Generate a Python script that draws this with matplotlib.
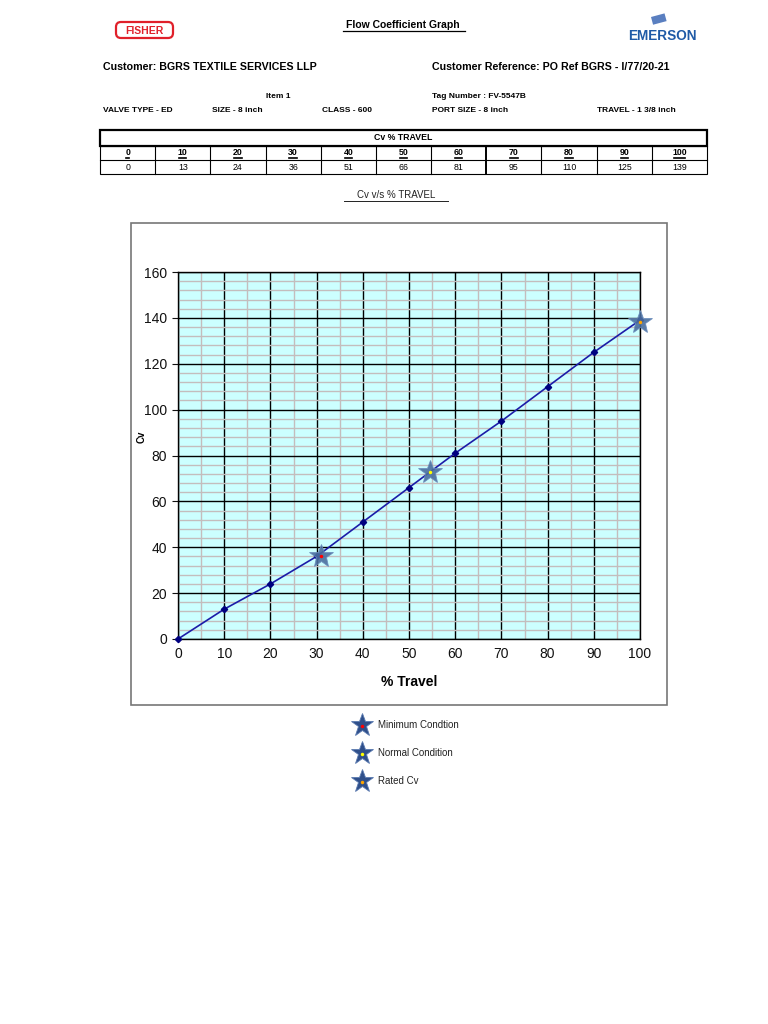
import matplotlib
matplotlib.use('Agg')
import matplotlib.pyplot as plt
from matplotlib.patches import FancyBboxPatch, Rectangle
from matplotlib.ticker import MultipleLocator

plt.rcParams['font.family'] = ['Liberation Sans', 'DejaVu Sans']

# data read from the sheet
travel = [0, 10, 20, 30, 40, 50, 60, 70, 80, 90, 100]
cv = [0, 13, 24, 36, 51, 66, 81, 95, 110, 125, 139]

cond_names = ['Minimum Condtion', 'Normal Condition', 'Rated Cv']
cond_travel = [31, 54.5, 100]
cond_cv = [36, 73, 138]
cond_dot = ['red', 'yellow', 'orange']

W, H = 768, 1024
fig = plt.figure(figsize=(W / 100, H / 100), dpi=100)

# background axes in pixel units for the page layout
bg = fig.add_axes([0, 0, 1, 1], zorder=0)
bg.set_xlim(0, W)
bg.set_ylim(H, 0)
bg.axis('off')

# logos
bg.add_patch(FancyBboxPatch((116, 22), 57, 16, boxstyle='round,pad=0,rounding_size=5',
                            fc='white', ec='#e0202a', lw=1.6))
bg.text(144.5, 30.5, 'FISHER', color='#e0202a', fontsize=7.5, fontweight='bold',
        ha='center', va='center')
bg.text(662, 36, 'EMERSON', color='#1f5aa6', fontsize=9.8, fontweight='bold',
        ha='center', va='center')
bg.add_patch(Rectangle((651, 17), 14, 8, fc='#5a7fc0', ec='none', angle=-15))

bg.text(403, 25, 'Flow Coefficient Graph', fontsize=7.5, fontweight='bold', ha='center', va='center')
bg.plot([343, 465], [31, 31], color='black', lw=0.9)

bg.text(103, 67, 'Customer: BGRS TEXTILE SERVICES LLP', fontsize=7.7, fontweight='bold', va='center')
bg.text(432, 67, 'Customer Reference: PO Ref BGRS - I/77/20-21', fontsize=7.7, fontweight='bold', va='center')
bg.text(278, 96, 'Item 1', fontsize=6, fontweight='bold', ha='center', va='center')
bg.text(432, 96, 'Tag Number : FV-5547B', fontsize=6, fontweight='bold', va='center')
bg.text(103, 110, 'VALVE TYPE - ED', fontsize=6, fontweight='bold', va='center')
bg.text(212, 110, 'SIZE - 8 inch', fontsize=6, fontweight='bold', va='center')
bg.text(322, 110, 'CLASS - 600', fontsize=6, fontweight='bold', va='center')
bg.text(432, 110, 'PORT SIZE - 8 inch', fontsize=6, fontweight='bold', va='center')
bg.text(597, 110, 'TRAVEL - 1 3/8 inch', fontsize=6, fontweight='bold', va='center')

# table
tl, tr = 100, 707
t0, t1, t2, t3 = 130, 146, 160, 174
bg.add_patch(Rectangle((tl, t0), tr - tl, t1 - t0, fc='none', ec='black', lw=1.6))
bg.add_patch(Rectangle((tl, t1), tr - tl, t3 - t1, fc='none', ec='black', lw=0.8))
bg.plot([tl, tr], [t2, t2], color='black', lw=0.8)
bg.text((tl + tr) / 2, (t0 + t1) / 2, 'Cv % TRAVEL', fontsize=6.3, fontweight='bold',
        ha='center', va='center')
cw = (tr - tl) / len(travel)
for i, (t, c) in enumerate(zip(travel, cv)):
    if i > 0:
        bg.plot([tl + i * cw] * 2, [t1, t3], color='black', lw=1.4 if i == 7 else 0.8)
    cx = tl + (i + 0.5) * cw
    bg.text(cx, (t1 + t2) / 2 - 0.5, str(t), fontsize=6.3, fontweight='bold', ha='center', va='center')
    lw_ = 3.7 * len(str(t))
    bg.plot([cx - lw_ / 2, cx + lw_ / 2], [t2 - 2, t2 - 2], color='black', lw=1.2)
    bg.text(cx, (t2 + t3) / 2, str(c), fontsize=6.3, ha='center', va='center')

bg.text(396, 195, 'Cv v/s % TRAVEL', fontsize=7, ha='center', va='center', color='#222222')
bg.plot([344, 448], [201, 201], color='#222222', lw=0.7)

# chart frame
bg.add_patch(Rectangle((131, 223), 536, 482, fc='white', ec='#777777', lw=1.2))

# legend
for k, (nm, dc) in enumerate(zip(cond_names, cond_dot)):
    yy = 725 + 28 * k
    bg.plot(362, yy, marker='*', ms=17, color='#2f4f8a', mec='#5a7ab0', mew=0.6)
    bg.plot(362, yy + 1, marker='o', ms=2.5, color=dc, mec='none')
    bg.text(378, yy, nm, fontsize=7, va='center', color='#222222')

# main plot
ax = fig.add_axes([178 / W, 1 - 639 / H, (640 - 178) / W, (639 - 272) / H], zorder=2)
ax.set_facecolor('#ccffff')
ax.set_xlim(0, 100)
ax.set_ylim(0, 160)
ax.xaxis.set_major_locator(MultipleLocator(10))
ax.xaxis.set_minor_locator(MultipleLocator(5))
ax.yaxis.set_major_locator(MultipleLocator(20))
ax.yaxis.set_minor_locator(MultipleLocator(4))
ax.grid(which='minor', color='#c4bdbd', lw=1.0)
ax.grid(which='major', color='black', lw=1.0)
ax.set_axisbelow(True)
for s in ax.spines.values():
    s.set_color('black')
    s.set_linewidth(1.0)
ax.tick_params(which='both', length=0, labelsize=10, pad=6, colors='#111111')
ax.tick_params(axis='y', which='major', length=4, direction='out', pad=4)

ax.plot(travel, cv, color='#1c1ca8', lw=1.2, marker='D', ms=3.2,
        mfc='#000080', mec='#000080', clip_on=False, zorder=3)
for t, c, dc in zip(cond_travel, cond_cv, cond_dot):
    ax.plot(t, c, marker='*', ms=18, color='#4a6e9e', mec='#6a8cbc', mew=0.6,
            alpha=0.9, clip_on=False, zorder=4)
    ax.plot(t, c, marker='o', ms=2.5, color=dc, mec='none', clip_on=False, zorder=5)

ax.set_xlabel('% Travel', fontsize=10, fontweight='bold', labelpad=10)
ax.set_ylabel('Cv', fontsize=7, fontweight='bold')
ax.yaxis.set_label_coords(-0.068, 0.55)

fig.savefig('out.png', dpi=100)
